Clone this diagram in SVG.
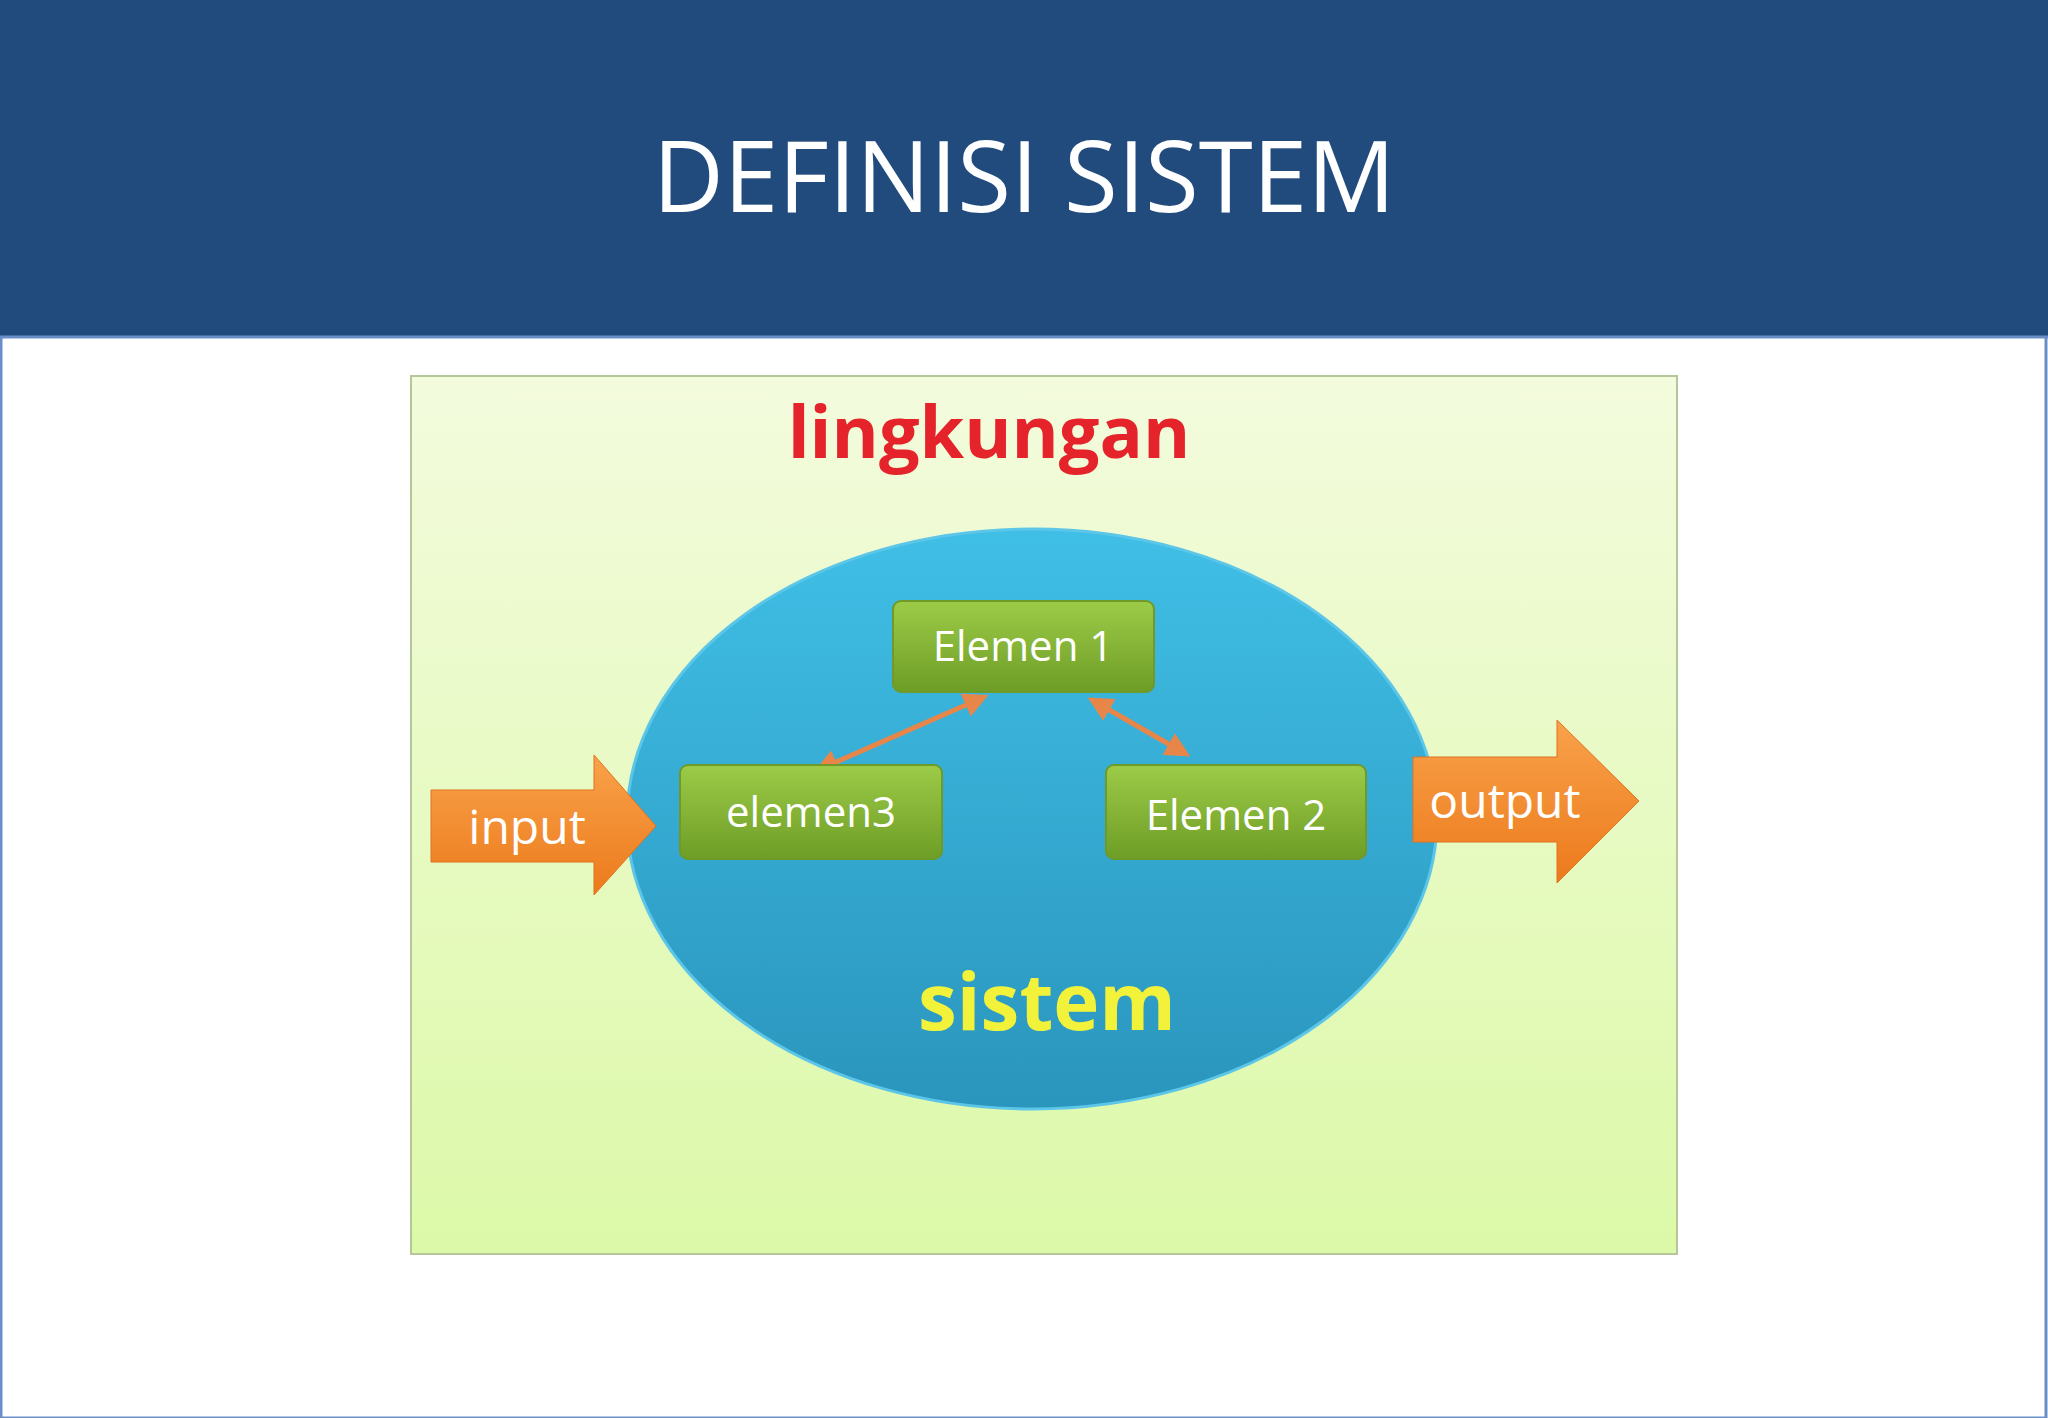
<svg xmlns="http://www.w3.org/2000/svg" width="2048" height="1418" viewBox="0 0 2048 1418">
<style>
.box{fill:url(#gb);stroke:#6f9a2a;stroke-width:2}
.bt{font-family:"Open Sans","Liberation Sans",sans-serif;font-size:42px;fill:#fff;text-anchor:middle}
.at{font-family:"Open Sans","Liberation Sans",sans-serif;font-size:48px;fill:#fff;text-anchor:middle}
.ar{fill:url(#go);stroke:#e0731e;stroke-width:1}
.con{stroke:#e8864a;stroke-width:5;fill:none;marker-start:url(#m);marker-end:url(#m)}
</style>
<defs>
<linearGradient id="gb" x1="0" y1="0" x2="0" y2="1"><stop offset="0" stop-color="#9ccb48"/><stop offset="1" stop-color="#6e9d26"/></linearGradient>
<linearGradient id="go" x1="0" y1="0" x2="0" y2="1"><stop offset="0" stop-color="#f9a24a"/><stop offset="1" stop-color="#ec7a1c"/></linearGradient>
<linearGradient id="ge" x1="0" y1="0" x2="0" y2="1"><stop offset="0" stop-color="#40bfe6"/><stop offset="1" stop-color="#2a95bd"/></linearGradient>
<linearGradient id="gp" x1="0" y1="0" x2="0" y2="1"><stop offset="0" stop-color="#f3fbdd"/><stop offset="1" stop-color="#dcf9a8"/></linearGradient>
<marker id="m" viewBox="0 0 10 10" refX="8" refY="5" markerWidth="5" markerHeight="5" orient="auto-start-reverse"><path d="M0,0L10,5L0,10z" fill="#e8864a"/></marker>
</defs>
<rect width="2048" height="1418" fill="#fff"/>
<rect x="1" y="0" width="2045" height="1418" fill="none" stroke="#6a8fc8" stroke-width="3"/>
<rect x="0" y="0" width="2048" height="336" fill="#214a7d"/>
<line x1="0" y1="337" x2="2048" y2="337" stroke="#6a8fc8" stroke-width="3"/>
<text x="1024" y="212" font-family="Open Sans,Liberation Sans,sans-serif" font-size="98" fill="#fff" text-anchor="middle">DEFINISI SISTEM</text>
<g id="lingkungan">
<rect x="411" y="376" width="1266" height="878" fill="url(#gp)" stroke="#b5c79a" stroke-width="2"/>
<text x="989" y="458" font-family="Open Sans,Liberation Sans,sans-serif" font-weight="bold" font-size="72" fill="#e5232a" text-anchor="middle">lingkungan</text>
</g>
<g id="sistem">
<ellipse cx="1032" cy="819" rx="405" ry="290" fill="url(#ge)" stroke="#5cc6e8" stroke-width="3"/>
<text x="1047" y="1030" font-family="Open Sans,Liberation Sans,sans-serif" font-weight="bold" font-size="78" fill="#f2f23a" text-anchor="middle">sistem</text>
</g>
<g id="connectors">
<line class="con" x1="984" y1="697" x2="818" y2="770"/>
<line class="con" x1="1092" y1="700" x2="1186" y2="754"/>
</g>
<g id="elemen1"><rect class="box" x="893" y="601" width="261" height="91" rx="8"/><text class="bt" x="1023" y="661">Elemen 1</text></g>
<g id="elemen3"><rect class="box" x="680" y="765" width="262" height="94" rx="8"/><text class="bt" x="811" y="827">elemen3</text></g>
<g id="elemen2"><rect class="box" x="1106" y="765" width="260" height="94" rx="8"/><text class="bt" x="1236" y="830">Elemen 2</text></g>
<g id="input"><path class="ar" d="M431,790H594V755L656,826L594,895V862H431Z"/><text class="at" x="527" y="844">input</text></g>
<g id="output"><path class="ar" d="M1413,757H1557V720L1639,801L1557,883V842H1413Z"/><text class="at" x="1505" y="818">output</text></g>
</svg>
